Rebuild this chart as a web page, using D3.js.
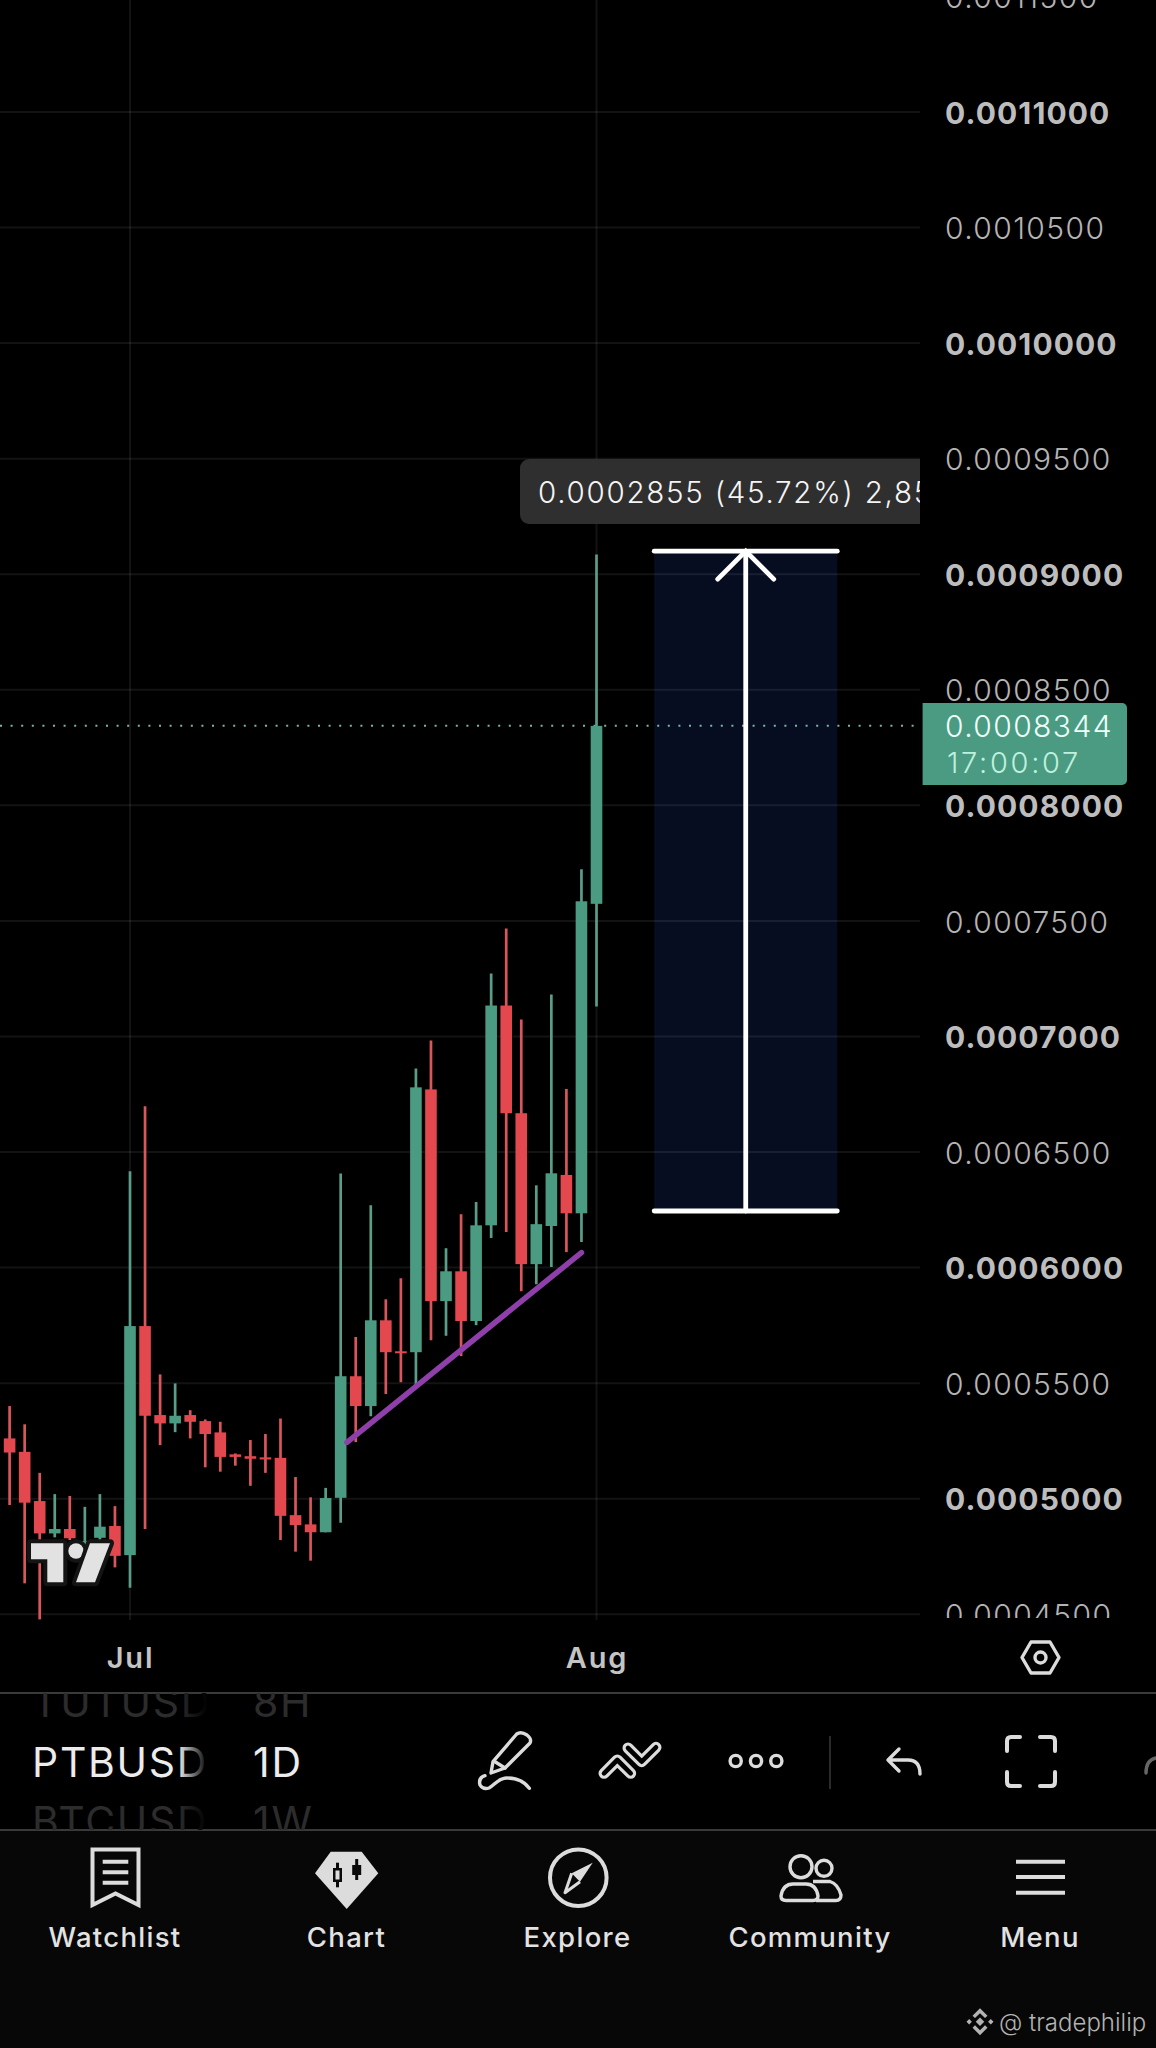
<!DOCTYPE html>
<head>
  <meta charset="utf-8">
  <title>PTBUSD 1D</title>
  <style>
    html, body { margin: 0; padding: 0; background: #000; }
    svg { display: block; font-family: Inter, Roboto, sans-serif; }
  </style>
</head>

<body>
  <div id="chart"></div>
  <script src="https://d3js.org/d3.v7.min.js"></script>
  <script type="text/javascript">

    // candles
    var dates = ["06-23","06-24","06-25","06-26","06-27","06-28","06-29","06-30",
      "07-01","07-02","07-03","07-04","07-05","07-06","07-07","07-08","07-09","07-10",
      "07-11","07-12","07-13","07-14","07-15","07-16","07-17","07-18","07-19","07-20",
      "07-21","07-22","07-23","07-24","07-25","07-26","07-27","07-28","07-29","07-30",
      "07-31","08-01"];
    var opens = [.0005261,.0005203,.0004990,.0004850,.0004869,.0004800,.0004831,.0004882,
      .0004756,.0005747,.0005362,.0005326,.0005362,.0005336,.0005287,.0005192,.0005184,.0005179,
      .0005177,.0004929,.0004889,.0004855,.0005004,.0005530,.0005401,.0005772,.0005638,.0005634,
      .0006771,.0005855,.0005984,.0005769,.0006183,.0007134,.0006668,.0006015,.0006180,.0006401,
      .0006235,.0007574];
    var highs = [.0005401,.0005322,.0005112,.0005020,.0005012,.0004965,.0005020,.0004968,
      .0006417,.0006698,.0005538,.0005499,.0005383,.0005343,.0005333,.0005196,.0005254,.0005280,
      .0005347,.0005094,.0005006,.0005047,.0006407,.0005700,.0006270,.0005863,.0005954,.0006862,
      .0006983,.0006084,.0006231,.0006284,.0007273,.0007467,.0007074,.0006356,.0007182,.0006773,
      .0007724,.0009085];
    var lows = [.0004973,.0004634,.0004478,.0004833,.0004821,.0004735,.0004821,.0004703,
      .0004615,.0004869,.0005232,.0005288,.0005261,.0005136,.0005117,.0005143,.0005056,.0005112,
      .0004821,.0004771,.0004732,.0004855,.0004896,.0005245,.0005357,.0005453,.0005504,.0005483,
      .0005686,.0005705,.0005617,.0005751,.0006128,.0006154,.0005898,.0005928,.0006003,.0006067,
      .0006111,.0007130];
    var closes = [.0005200,.0004983,.0004850,.0004869,.0004829,.0004817,.0004879,.0004753,
      .0005747,.0005359,.0005326,.0005359,.0005333,.0005280,.0005181,.0005181,.0005173,.0005170,
      .0004926,.0004886,.0004855,.0005003,.0005530,.0005401,.0005772,.0005634,.0005630,.0006780,
      .0005855,.0005984,.0005769,.0006183,.0007134,.0006668,.0006015,.0006188,.0006408,.0006235,
      .0007585,.0008344];

    var priceTicks = [.00045,.0005,.00055,.0006,.00065,.0007,.00075,.0008,.00085,.0009,.00095,.001,.00105,.0011,.00115];
    var monthTicks = ["2025-07-01","2025-08-01"];
    var navLabels = ["Watchlist","Chart","Explore","Community","Menu"];

    // drawings on the chart
    var trendDates = ["2025-07-15T10:00Z","2025-07-31T00:00Z"];
    var trendValues = [.0005244,.0006065];
    var measureDates = ["2025-08-04T20:00Z","2025-08-17T00:00Z"];
    var measureValues = [.0006245,.00091];

    var green = "#4b9b83", red = "#e3484f", iconCol = "#dcdcdc";

    var parseDay = d3.utcParse("%Y-%m-%d");
    var candles = dates.map(function(d, i) {
      return {date: parseDay("2025-" + d), o: opens[i], h: highs[i], l: lows[i], c: closes[i]};
    });

    var x = d3.scaleUtc().domain([parseDay(monthTicks[0]), parseDay(monthTicks[1])]).range([130, 596.5]);
    var y = d3.scaleLinear().domain([.00045, .0011]).range([1614.3, 112]);

    var svg = d3.select("#chart").append("svg").attr("width", 1156).attr("height", 2048);
    var defs = svg.append("defs");
    defs.append("clipPath").attr("id", "plotClip").append("rect").attr("width", 920).attr("height", 1622);
    defs.append("clipPath").attr("id", "axisClip").append("rect").attr("width", 1156).attr("height", 1618);
    defs.append("clipPath").attr("id", "pairClip").append("rect").attr("y", 1693).attr("width", 1156).attr("height", 137);
    function fade(id, col) {
      var g = defs.append("linearGradient").attr("id", id).attr("gradientUnits", "userSpaceOnUse")
        .attr("x1", 178).attr("x2", 208).attr("y1", 0).attr("y2", 0);
      g.append("stop").attr("offset", 0).attr("stop-color", col);
      g.append("stop").attr("offset", 1).attr("stop-color", "#000");
    }
    fade("fadeMain", "#ececec");
    fade("fadeDim", "#2c2c2c");

    svg.append("rect").attr("width", 1156).attr("height", 2048).attr("fill", "#000");
    svg.append("rect").attr("y", 1830).attr("width", 1156).attr("height", 218).attr("fill", "#070707");

    var plot = svg.append("g").attr("clip-path", "url(#plotClip)");

    // measure box background, the grid shows through it
    var mx0 = x(new Date(measureDates[0])), mx1 = x(new Date(measureDates[1])), mxc = (mx0 + mx1) / 2;
    var my0 = y(measureValues[0]), my1 = y(measureValues[1]);
    plot.append("rect").attr("x", mx0).attr("y", my1).attr("width", mx1 - mx0).attr("height", my0 - my1).attr("fill", "#070d21");

    // grid
    plot.append("g").selectAll("line").data(priceTicks).join("line")
      .attr("x1", 0).attr("x2", 920).attr("y1", d => y(d)).attr("y2", d => y(d))
      .attr("stroke", "#fff").attr("stroke-opacity", .075).attr("stroke-width", 2);
    plot.append("g").selectAll("line").data(monthTicks).join("line")
      .attr("x1", d => x(parseDay(d))).attr("x2", d => x(parseDay(d))).attr("y1", 0).attr("y2", 1620)
      .attr("stroke", "#fff").attr("stroke-opacity", .075).attr("stroke-width", 2);

    // last price line
    plot.append("line").attr("x1", 0).attr("x2", 920)
      .attr("y1", y(closes[closes.length - 1])).attr("y2", y(closes[closes.length - 1]))
      .attr("stroke", "#7fb3a2").attr("stroke-width", 2).attr("stroke-dasharray", "2 8.6");

    // candles
    var bw = 11.6;
    var cg = plot.append("g").selectAll("g").data(candles).join("g");
    cg.append("line")
      .attr("x1", d => x(d.date)).attr("x2", d => x(d.date))
      .attr("y1", d => y(d.h)).attr("y2", d => y(d.l))
      .attr("stroke", d => d.c >= d.o ? "#5a9d89" : "#d9565c").attr("stroke-width", 2.7);
    cg.append("rect")
      .attr("x", d => x(d.date) - bw / 2).attr("width", bw)
      .attr("y", d => y(Math.max(d.o, d.c)))
      .attr("height", d => Math.max(2, Math.abs(y(d.o) - y(d.c))))
      .attr("fill", d => d.c >= d.o ? green : red);

    // trend line
    plot.append("line")
      .attr("x1", x(new Date(trendDates[0]))).attr("x2", x(new Date(trendDates[1])))
      .attr("y1", y(trendValues[0])).attr("y2", y(trendValues[1]))
      .attr("stroke", "#8e3fa9").attr("stroke-width", 5.5).attr("stroke-linecap", "round");

    // measure tool
    var white = plot.append("g").attr("stroke", "#fff").attr("fill", "none").attr("stroke-linecap", "round");
    white.append("line").attr("x1", mx0).attr("x2", mx1).attr("y1", my1).attr("y2", my1).attr("stroke-width", 4.8);
    white.append("line").attr("x1", mx0).attr("x2", mx1).attr("y1", my0).attr("y2", my0).attr("stroke-width", 4.8);
    white.append("line").attr("x1", mxc).attr("x2", mxc).attr("y1", my1).attr("y2", my0).attr("stroke-width", 4.8);
    white.append("path").attr("stroke-width", 4.8).attr("d", d3.line()([[mxc - 28, my1 + 28], [mxc, my1], [mxc + 28, my1 + 28]]));

    plot.append("rect").attr("x", 520).attr("y", 459).attr("width", 440).attr("height", 65).attr("rx", 9).attr("fill", "#2f2f2f");
    plot.append("text").attr("x", 538).attr("y", 503).attr("fill", "#f4f4f4").attr("font-size", 29.5).attr("font-weight", 300)
      .attr("letter-spacing", 1.75).text("0.0002855 (45.72%) 2,855");

    // tradingview logo sits over the candles
    var logo = svg.append("g").attr("fill", "#e2e2e2").attr("stroke", "#141414").attr("stroke-width", 8)
      .attr("stroke-linejoin", "round").attr("paint-order", "stroke");
    logo.append("path").attr("d", "M31 1543.3H63.3V1582.3H47.3V1559.3H31Z");
    logo.append("circle").attr("cx", 76).attr("cy", 1551).attr("r", 7.7);
    logo.append("path").attr("d", "M90 1543.3H110L95 1582.3H76Z");

    // price axis
    var axisWrap = svg.append("g").attr("clip-path", "url(#axisClip)");
    var yAxis = d3.axisRight(y).tickValues(priceTicks).tickSize(0).tickPadding(0).tickFormat(d3.format(".7f"));
    var yg = axisWrap.append("g").attr("transform", "translate(945,0)").call(yAxis);
    yg.select(".domain").remove();
    yg.selectAll("text")
      .attr("dy", ".37em")
      .attr("font-family", "Inter, Roboto, sans-serif").attr("font-size", 30)
      .attr("fill", (d, i) => i % 2 == 1 ? "#bdbdbd" : "#b4b4b4")
      .attr("font-weight", (d, i) => i % 2 == 1 ? 700 : 300)
      .attr("letter-spacing", (d, i) => i % 2 == 1 ? 1.1 : 1.4);

    // current price tag
    svg.append("path").attr("d", "M922.6 703H1122a5 5 0 0 1 5 5V780a5 5 0 0 1 -5 5H922.6Z").attr("fill", "#4a9b82");
    svg.append("text").attr("x", 945).attr("y", 737).attr("font-size", 30).attr("font-weight", 300).attr("fill", "#effff9")
      .attr("letter-spacing", 1.4).text(d3.format(".7f")(closes[closes.length - 1]));
    svg.append("text").attr("x", 947).attr("y", 773).attr("font-size", 29).attr("font-weight", 300).attr("fill", "#c0f0de")
      .attr("letter-spacing", 2.7).text("17:00:07");

    // time axis
    var xAxis = d3.axisBottom(x).tickValues(monthTicks.map(parseDay)).tickSize(0).tickPadding(0).tickFormat(d3.utcFormat("%b"));
    var xg = svg.append("g").attr("transform", "translate(0,1668)").call(xAxis);
    xg.select(".domain").remove();
    xg.selectAll("text")
      .attr("dy", 0).attr("font-family", "Inter, Roboto, sans-serif").attr("font-size", 29).attr("font-weight", 600)
      .attr("letter-spacing", 1.8).attr("fill", "#c4c4c4");

    // separators
    svg.append("line").attr("x1", 0).attr("x2", 1156).attr("y1", 1693).attr("y2", 1693).attr("stroke", "#3a3a3a").attr("stroke-width", 2);
    svg.append("line").attr("x1", 0).attr("x2", 1156).attr("y1", 1830).attr("y2", 1830).attr("stroke", "#3a3a3a").attr("stroke-width", 2);

    // symbol picker
    var picker = svg.append("g").attr("clip-path", "url(#pairClip)").attr("font-size", 41).attr("letter-spacing", 1.7);
    function pickerRow(sym, res, base, fill, resFill) {
      picker.append("text").attr("x", 32).attr("y", base).attr("fill", fill).text(sym);
      picker.append("text").attr("x", 253).attr("y", base).attr("fill", resFill).text(res);
    }
    pickerRow("TUTUSD", "8H", 1717, "url(#fadeDim)", "#2c2c2c");
    pickerRow("PTBUSD", "1D", 1777, "url(#fadeMain)", "#ececec");
    pickerRow("BTCUSD", "1W", 1836, "url(#fadeDim)", "#2c2c2c");

    // toolbar icons
    var tools = svg.append("g").attr("fill", "none").attr("stroke", iconCol).attr("stroke-width", 3.4)
      .attr("stroke-linecap", "round").attr("stroke-linejoin", "round");
    tools.append("path").attr("d", "M491 1773L493 1761.7L516.7 1734Q521 1731 527 1735Q532 1739 530 1743L505 1768Z");
    tools.append("path").attr("d", "M495 1761.7L505 1768");
    tools.append("path").attr("d", "M485 1775.7Q478 1778 480 1785Q483 1790 489 1788C495 1785 498 1778 507 1778C517 1778 524 1781 529.3 1788.3");
    var zig = [[604, 1773.3], [617.3, 1760], [630.7, 1773.3]], zag = [[628, 1748], [641.7, 1761.7], [656, 1747.3]];
    [zig, zag].forEach(function(pts) {
      tools.append("path").attr("d", d3.line()(pts)).attr("stroke-width", 11);
      tools.append("path").attr("d", d3.line()(pts)).attr("stroke-width", 4.6).attr("stroke", "#000");
    });
    [735.7, 756, 776.3].forEach(function(cx) {
      tools.append("circle").attr("cx", cx).attr("cy", 1761).attr("r", 5.6);
    });
    svg.append("line").attr("x1", 830).attr("x2", 830).attr("y1", 1736).attr("y2", 1789).attr("stroke", "#2b2b2b").attr("stroke-width", 2);
    tools.append("path").attr("d", "M899 1749L888 1760L899 1771M888 1760H908Q920 1760 920 1774");
    tools.append("path").attr("stroke-width", 4).attr("d",
      "M1007 1751V1741Q1007 1737 1011 1737H1020M1040 1737H1051Q1055 1737 1055 1741V1751M1055 1772V1782Q1055 1786 1051 1786H1040M1020 1786H1011Q1007 1786 1007 1782V1772");
    tools.append("path").attr("stroke", "#666").attr("d", "M1146 1773Q1146 1760 1156 1758");
    // chart settings
    tools.append("path").attr("d", "M1022 1657.5L1031 1642H1050L1059 1657.5L1050 1673H1031Z");
    tools.append("circle").attr("cx", 1040.5).attr("cy", 1657.5).attr("r", 5.5);

    // bottom nav
    var navX = [115, 346.5, 577.5, 810, 1040];
    svg.append("g").selectAll("text").data(navLabels).join("text")
      .attr("x", (d, i) => navX[i]).attr("y", 1947).attr("text-anchor", "middle")
      .attr("font-size", 27.5).attr("font-weight", 500).attr("letter-spacing", 1.3).attr("fill", "#e2e2e2").text(d => d);

    var nav = svg.append("g").attr("fill", "none").attr("stroke", iconCol).attr("stroke-width", 4);
    nav.append("path").attr("d", "M92.5 1849.5H138.5V1905L115.5 1893.5L92.5 1905Z");
    nav.append("path").attr("d", "M102.7 1861.7H128.3M102.7 1872.3H128.3M102.7 1882.7H128.3");
    svg.append("path").attr("fill", iconCol).attr("d", "M330.7 1851.7H361.7L378.3 1873.3L346.7 1909L315 1873.3Z");
    var mini = svg.append("g").attr("fill", "#0a0a0a");
    mini.append("rect").attr("x", 336).attr("y", 1862.7).attr("width", 3).attr("height", 24.6);
    mini.append("rect").attr("x", 333).attr("y", 1868).attr("width", 9).attr("height", 14);
    mini.append("rect").attr("x", 335.5).attr("y", 1870.5).attr("width", 4).attr("height", 9).attr("fill", iconCol);
    mini.append("rect").attr("x", 355.2).attr("y", 1859).attr("width", 3).attr("height", 21);
    mini.append("rect").attr("x", 352.2).attr("y", 1865).attr("width", 9).attr("height", 10);
    nav.append("circle").attr("cx", 578.3).attr("cy", 1877.7).attr("r", 28.3);
    svg.append("path").attr("fill", iconCol).attr("d", "M592.7 1862.7L580 1881.7L571.7 1873.3Z");
    nav.append("path").attr("stroke-width", 3).attr("stroke-linejoin", "round").attr("d", "M571.7 1873.3L565 1892.7L580 1881.7");
    nav.append("circle").attr("cx", 801).attr("cy", 1866.7).attr("r", 11).attr("stroke-width", 3.4);
    nav.append("circle").attr("cx", 824).attr("cy", 1868.3).attr("r", 8).attr("stroke-width", 3.4);
    nav.append("path").attr("stroke-width", 3.4).attr("d", "M786 1900.5H813Q818 1900.5 818 1896Q816 1884 806 1884H793Q783 1884 781 1896Q781 1900.5 786 1900.5Z");
    nav.append("path").attr("stroke-width", 3.4).attr("d", "M813 1881.5H830Q838 1884 841 1895Q841 1900.5 836 1900.5H816");
    nav.append("path").attr("stroke-linecap", "butt").attr("d", "M1016 1861.7H1065M1016 1877H1065M1016 1892.7H1065");

    // watermark
    var wm = svg.append("g").attr("fill", "#b3b3b3").attr("transform", "translate(980,2021.7)");
    wm.append("path").attr("transform", "rotate(45)").attr("d", "M-3 -3H3V3H-3Z");
    wm.append("path").attr("d", "M-13.5 0L-10.8 -2.7L-8.1 0L-10.8 2.7ZM13.5 0L10.8 -2.7L8.1 0L10.8 2.7Z");
    wm.append("path").attr("d", "M0 -13.5L7.5 -6L5 -3.6L0 -8.5L-5 -3.6L-7.5 -6ZM0 13.5L7.5 6L5 3.6L0 8.5L-5 3.6L-7.5 6Z");
    svg.append("text").attr("x", 999).attr("y", 2030.5).attr("font-size", 24).attr("font-weight", 300).attr("fill", "#b3b3b3").text("@ tradephilip");

  </script>

</body>
